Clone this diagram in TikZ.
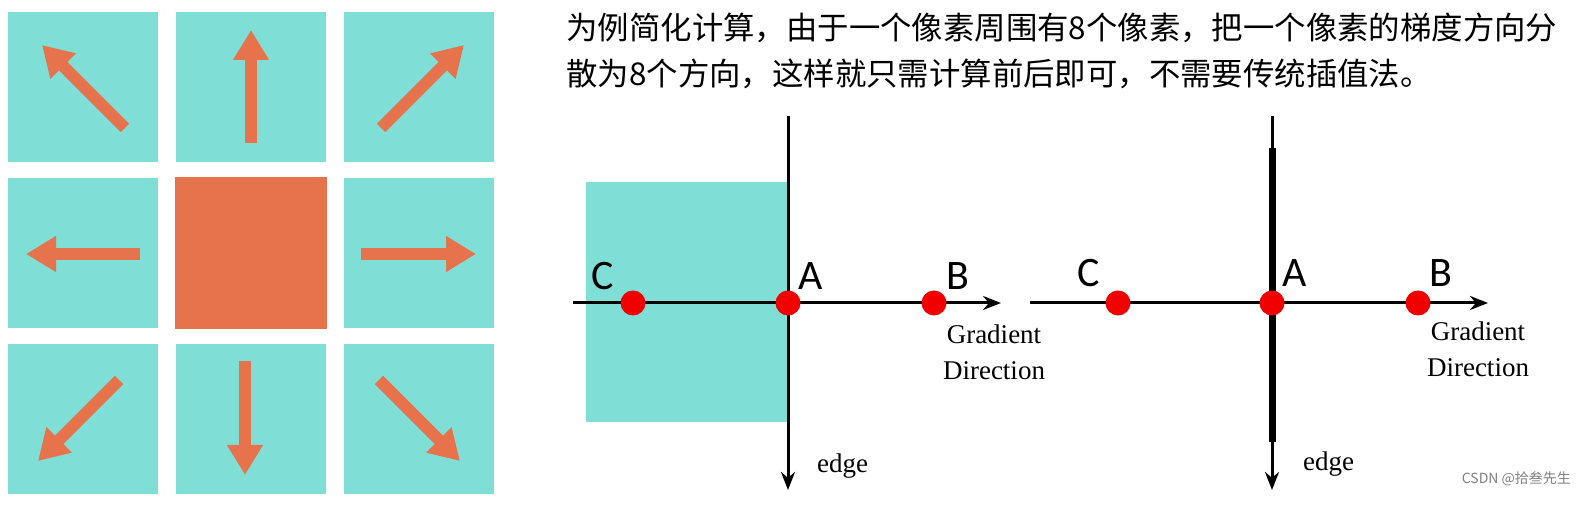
\documentclass[tikz,border=0pt]{standalone}
\usepackage{fontspec}
\setsansfont{Carlito}
\newfontfamily\cjk{Noto Sans CJK SC}
\newfontfamily\tnr{Liberation Serif}
\usetikzlibrary{arrows.meta}
\definecolor{teal1}{RGB}{127,223,215}
\definecolor{org}{RGB}{231,115,76}
\definecolor{dotred}{RGB}{240,0,0}
\begin{document}
\begin{tikzpicture}[x=0.5pt,y=-0.5pt,
  oarr/.style={org,line width=6pt,-{Triangle[width=17pt,length=15pt]}},
  dotn/.style={circle,fill=dotred,inner sep=0pt,minimum size=12.5pt},
  lab/.style={font=\sffamily\fontsize{21}{21}\selectfont},
  ser/.style={font=\tnr\fontsize{13.5}{18}\selectfont,align=center},
  ax/.style={line width=1.5pt,-{Stealth[length=9pt,width=7pt]}}]
\useasboundingbox (0,0) rectangle (1587,506);
\foreach \x in {8,176,344}{\foreach \y in {12,178,344}{\fill[teal1] (\x,\y) rectangle ++(150,150);}}
\fill[org] (175,177) rectangle (327,329);
\draw[oarr] (251,143) -- (251,30);
\draw[oarr] (125,128) -- (42,45);
\draw[oarr] (381,128) -- (464,45);
\draw[oarr] (140,254) -- (26,254);
\draw[oarr] (361,254) -- (476,254);
\draw[oarr] (119,380) -- (38,461);
\draw[oarr] (245,361) -- (245,475);
\draw[oarr] (379,380) -- (460,461);
\node[anchor=west,font=\cjk\fontsize{15.7}{15.7}\selectfont,inner sep=0] (t1) at (566,28) {为例简化计算，由于一个像素周围有8个像素，把一个像素的梯度方向分};
\node[anchor=west,font=\cjk\fontsize{15.7}{15.7}\selectfont,inner sep=0] (t2) at (566,74) {散为8个方向，这样就只需计算前后即可，不需要传统插值法。};
\fill[teal1] (586,182) rectangle (788,422);
\coordinate (v1s) at (788,116); \coordinate (v1e) at (788,490);
\coordinate (h1s) at (573,303); \coordinate (h1e) at (1001,303);
\draw[ax] (v1s) -- (v1e);
\draw[ax] (h1s) -- (h1e);
\node[dotn] (c1) at (633,303) {};
\node[dotn] (a1) at (788,303) {};
\node[dotn] (b1) at (934,303) {};
\node[lab] at (603,276) {C};
\node[lab] at (811,276) {A};
\node[lab] at (958,276) {B};
\node[ser] at (994,352) {Gradient\\Direction};
\node[ser,anchor=west] at (810,466) {edge};
\coordinate (v2s) at (1272,116); \coordinate (v2e) at (1272,490);
\coordinate (h2s) at (1030,303); \coordinate (h2e) at (1488,303);
\draw[ax] (v2s) -- (v2e);
\draw[line width=3.5pt] (1272,148) -- (1272,442);
\draw[ax] (h2s) -- (h2e);
\node[dotn] (c2) at (1118,303) {};
\node[dotn] (a2) at (1272,303) {};
\node[dotn] (b2) at (1418,303) {};
\node[lab] at (1089,273) {C};
\node[lab] at (1295,273) {A};
\node[lab] at (1441,273) {B};
\node[ser] at (1478,349) {Gradient\\Direction};
\node[ser,anchor=west] at (1296,464) {edge};
\node[anchor=east,font=\cjk\fontsize{7}{7}\selectfont,text=gray] at (1578,479) {CSDN @拾叁先生};
\end{tikzpicture}
\end{document}
